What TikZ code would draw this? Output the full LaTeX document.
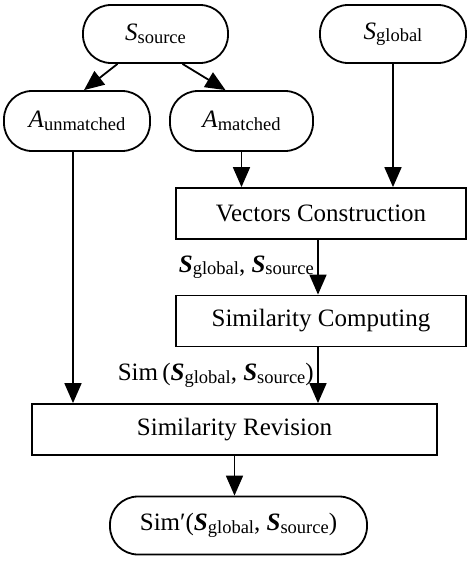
\documentclass[tikz,border=0pt]{standalone}
\usepackage{fontspec}
\setmainfont{Liberation Serif}
\usetikzlibrary{positioning}
\usetikzlibrary{quotes}
\usetikzlibrary{arrows.meta}

\newcommand{\lowsub}[1]{\raisebox{-2.5pt}{\fontsize{18.5}{20}\selectfont #1}}
\newcommand{\Sv}[1]{\textit{S}\lowsub{#1}}
\newcommand{\Sb}[1]{\textbf{\textit{S}}\lowsub{#1}}
\newcommand{\SgS}{\Sb{global}, \Sb{source}}
\newcommand{\SimS}{Sim\,(\SgS)}

\begin{document}
\begin{tikzpicture}
		[x=1pt, y=-1pt, font=\fontsize{25}{30}\selectfont, line width=1.8pt,
		 term/.style={draw, rounded corners=28pt, minimum height=58pt, inner xsep=0pt},
		 proc/.style={draw, minimum height=51pt},
		 >={Triangle[length=20pt,width=17pt]}]
		\useasboundingbox (0,0) rectangle (474,563);
		\node[term, minimum width=145pt] (src) at (155.5,34) {\Sv{source}};
		\node[term, minimum width=146pt] (glb) at (393,34) {\Sv{global}};
		\node[term, minimum width=146pt, minimum height=60pt] (unm) at (77,121) {\textit{A}\lowsub{unmatched}};
		\node[term, minimum width=143pt, minimum height=60pt] (mat) at (241.5,121) {\textit{A}\lowsub{matched}};
		\node[proc, minimum width=290pt] (vc) at (321,213.5) {Vectors Construction};
		\node[proc, minimum width=290pt] (sc) at (321,321) {Similarity Computing};
		\node[proc, minimum width=405pt] (sr) at (234.5,429.5) {Similarity Revision};
		\node[term, minimum width=257pt] (out) at (238.5,525.5) {Sim′(\SgS)};
		\draw[->] ([xshift=-38pt]src.south) to ([xshift=7pt]unm.north);
		\draw[->] ([xshift=27pt]src.south) to ([xshift=-16pt]mat.north);
		\draw[->] (mat.south) to (mat.south |- vc.north);
		\draw[->] (glb.south) to (glb.south |- vc.north);
		\draw[->] ([xshift=-3pt]vc.south) to["\SgS" left] ([xshift=-3pt]sc.north);
		\draw[->] ([xshift=-3pt]sc.south) to["\SimS" left] ([xshift=-3pt]sc.south |- sr.north);
		\draw[->] ([xshift=-4pt]unm.south) to ([xshift=-4pt]unm.south |- sr.north);
		\draw[->] (sr.south) to (sr.south |- out.north);
	\end{tikzpicture}
\end{document}
